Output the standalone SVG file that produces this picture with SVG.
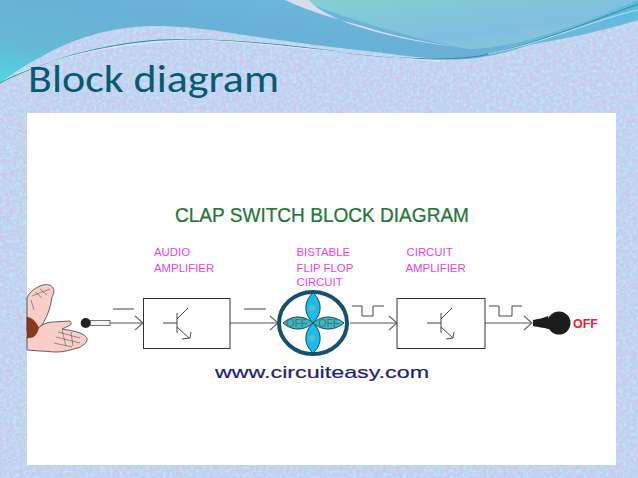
<svg xmlns="http://www.w3.org/2000/svg" width="638" height="478" viewBox="0 0 638 478">
<defs>
<linearGradient id="wave" x1="0" y1="1" x2="1" y2="0"><stop offset="0" stop-color="#4cd6e2"/><stop offset="0.25" stop-color="#66b8d4"/><stop offset="0.55" stop-color="#68b0d6"/><stop offset="0.8" stop-color="#6eb8de"/><stop offset="1" stop-color="#52bcd8"/></linearGradient>
<linearGradient id="teal" x1="0" y1="0" x2="1" y2="1"><stop offset="0" stop-color="#84d0d2"/><stop offset="0.6" stop-color="#80bee0"/><stop offset="1" stop-color="#88d0d4"/></linearGradient>
<filter id="noise" x="0" y="0" width="100%" height="100%" color-interpolation-filters="sRGB"><feTurbulence type="fractalNoise" baseFrequency="0.22" numOctaves="4" seed="4"/><feColorMatrix values="0 0 0 0 0.84  0 0 0 0 0.76  0 0 0 0 0.92  2.6 0 0 0 -1.05"/></filter>
<filter id="noise2" x="0" y="0" width="100%" height="100%" color-interpolation-filters="sRGB"><feTurbulence type="fractalNoise" baseFrequency="0.3" numOctaves="3" seed="11"/><feColorMatrix values="0 0 0 0 0.76  0 0 0 0 0.90  0 0 0 0 0.97  0 2.4 0 0 -0.95"/></filter>
<marker id="arrow" markerWidth="10" markerHeight="16" refX="9" refY="8" orient="auto" markerUnits="userSpaceOnUse"><path d="M1,1 L9,8 L1,15" fill="none" stroke="#666" stroke-width="1.1"/></marker>
</defs>
<style>
.lbl{font-family:"Liberation Sans",Arial,sans-serif;font-size:11.4px;fill:#e544e2}
.box{fill:#fff;stroke:#333;stroke-width:1}
.wire{fill:none;stroke:#555;stroke-width:1.1}
.pulse{fill:none;stroke:#444;stroke-width:1}
.tr{fill:none;stroke:#444;stroke-width:1}
.off{font-family:"Liberation Sans",Arial,sans-serif;font-size:10.500px;fill:#666}
.skin{fill:#f9cdc8;stroke:#3a3a3a;stroke-width:.8;stroke-linejoin:round}
.crease{fill:none;stroke:#555;stroke-width:.6}
.hp{fill:#16bdee;stroke:#14445c;stroke-width:1}
.vp{fill:#2cbcc6;stroke:#14445c;stroke-width:1}
</style>
<g id="background">
<rect width="638" height="478" fill="#bcd2f0"/>
<rect width="638" height="478" filter="url(#noise)"/>
<rect width="638" height="478" filter="url(#noise2)"/>
<path d="M0,83 C14,72 27,64 41,57 C70,40 110,26 155,26 C185,26 215,30 244,35 C290,42 330,47 366,51 C400,55 440,61 468,59 C495,56 515,50 529,45 C570,38 605,30 638,20 L638,0 L0,0Z" fill="url(#wave)"/>
<path d="M300,0 C345,18 410,38 468,49 C510,50 580,25 638,0Z" fill="url(#teal)"/>
<path d="M285,0 C310,12 340,20 366,27 C400,38 440,45 468,48 C425,44 385,36 350,24 C330,16 315,8 309,0Z" fill="#d6deee"/>
<path d="M0,83 C40,62 100,44 160,40 C220,38 280,44 340,52 C390,58 440,62 480,56 C530,46 590,22 638,4" fill="none" stroke="#2a8fa6" stroke-width="1"/>
<path d="M16,74 C70,52 130,42 190,40 C250,40 340,54 440,61" fill="none" stroke="#e8f2f6" stroke-width="0.8"/>
<path d="M488,54 C540,44 600,18 638,10" fill="none" stroke="#c9eef2" stroke-width="0.8"/>
</g>
<text id="title" x="28" y="92" font-family="Carlito,'Open Sans','Noto Sans',sans-serif" font-size="39" fill="#075a72" textLength="251" lengthAdjust="spacingAndGlyphs">Block diagram</text>
<rect id="panel" x="27" y="113" width="589" height="352" fill="#fff"/>
<text id="heading" x="175" y="222" font-family="'Liberation Sans',Arial,sans-serif" font-size="20.500" fill="#1d7f36" stroke="#10331f" stroke-width="0.2" textLength="294" lengthAdjust="spacingAndGlyphs">CLAP SWITCH BLOCK DIAGRAM</text>
<g id="connectors">
<line class="wire" x1="110" y1="323" x2="143" y2="323" marker-end="url(#arrow)"/>
<line class="wire" x1="230" y1="323" x2="278" y2="323" marker-end="url(#arrow)"/>
<line class="wire" x1="350" y1="323" x2="397" y2="323" marker-end="url(#arrow)"/>
<line class="wire" x1="485" y1="323" x2="532" y2="323" marker-end="url(#arrow)"/>
<line class="pulse" x1="113" y1="309" x2="134" y2="309"/>
<line class="pulse" x1="244" y1="309" x2="266" y2="309"/>
<path class="pulse" d="M352,306 H362 V316 H373 V306 H384"/>
<path class="pulse" d="M489,306 H499 V316 H512 V306 H522"/>
</g>
<g id="hands">
<path class="skin" d="M27,298 C29,292 36,287 43,285 C47,284 52,285 53,288 C55,292 53,295 52,297 C51,303 50,308 48,313 C46,318 44,322 42,325 L34,332 L27,332Z"/>
<path class="skin" d="M42,325 C46,323 50,322 53,322 L70,321 C72,323 71,325 70,325 C67,327 64,328 62,329 C68,330 75,331 80,333 C85,335 88,338 87,340 C87,342 85,344 83,345 C81,347 79,348 77,348 C71,350 64,352 57,352 C50,352 45,351 40,351 L27,350 L27,337 L36,330Z"/>
<path d="M27,317 C31,318 34,320 35,322 C38,325 39,328 38,330 C37,333 35,336 33,337 L27,338Z" fill="#8a3a18" stroke="#5a2a10" stroke-width=".5"/>
<path class="crease" d="M32,296 L50,289 M35,292 L42,298 M40,289 L47,295 M31,300 L34,310 M58,332 L80,338 M56,337 L80,343 M54,343 L72,347 M62,330 L66,346 M71,332 L73,346"/>
</g>
<g id="microphone">
<rect x="90" y="320.500" width="20" height="5" fill="#f4f4f4" stroke="#555" stroke-width=".8"/>
<circle cx="85.700" cy="323" r="5" fill="#222"/>
</g>
<g id="amp1">
<rect class="box" x="143.500" y="298.500" width="86.500" height="50"/>
<path class="tr" d="M163,323 H177 M177,313 V333 M177,319 L188,308 M177,327 L189,338 M182,339 L190,338 L191,332"/>
</g>
<g id="flipflop">
<ellipse cx="313" cy="323" rx="34" ry="31" fill="#fff" stroke="#15516f" stroke-width="4"/>
<path class="hp" d="M313,323 C303,313 304,301 313,293 C322,301 323,313 313,323 C303,333 304,345 313,353 C322,345 323,333 313,323Z"/>
<path class="vp" d="M313,323 C304,315 292,315 283,323 C292,331 304,331 313,323 C322,315 334,315 344,323 C334,331 322,331 313,323Z"/>
<circle cx="312" cy="308" r="3" fill="#7fc0a0" opacity=".7"/>
<circle cx="312" cy="338" r="3" fill="#7fc0a0" opacity=".7"/>
<text class="off" x="297" y="327" text-anchor="middle">OFF</text>
<text class="off" x="329" y="327" text-anchor="middle">OFF</text>
</g>
<g id="amp2">
<rect class="box" x="397" y="298.500" width="88" height="50"/>
<path class="tr" d="M427,323 H441 M441,313 V333 M441,319 L452,308 M441,327 L453,338 M446,339 L453,338 L454,332"/>
</g>
<g id="lamp">
<path d="M533,320 C538,319 544,318 548,316 L552,330 C546,328 538,327 533,326Z" fill="#1c1c1c"/>
<circle cx="559" cy="323" r="11.500" fill="#1c1c1c"/>
<text x="573" y="327.500" font-family="'Liberation Sans',Arial,sans-serif" font-size="12.500" font-weight="700" fill="#e8202c">OFF</text>
</g>
<g id="labels">
<text class="lbl" x="154" y="256">AUDIO</text>
<text class="lbl" x="154" y="272">AMPLIFIER</text>
<text class="lbl" x="296.500" y="256">BISTABLE</text>
<text class="lbl" x="296.500" y="272">FLIP FLOP</text>
<text class="lbl" x="296.500" y="286">CIRCUIT</text>
<text class="lbl" x="406.500" y="256">CIRCUIT</text>
<text class="lbl" x="405.500" y="272">AMPLIFIER</text>
</g>
<text id="url" x="215" y="378" font-family="'Liberation Sans',Arial,sans-serif" font-size="17" fill="#1c2180" stroke="#1c2180" stroke-width="0.2" textLength="214" lengthAdjust="spacingAndGlyphs">www.circuiteasy.com</text>
</svg>
